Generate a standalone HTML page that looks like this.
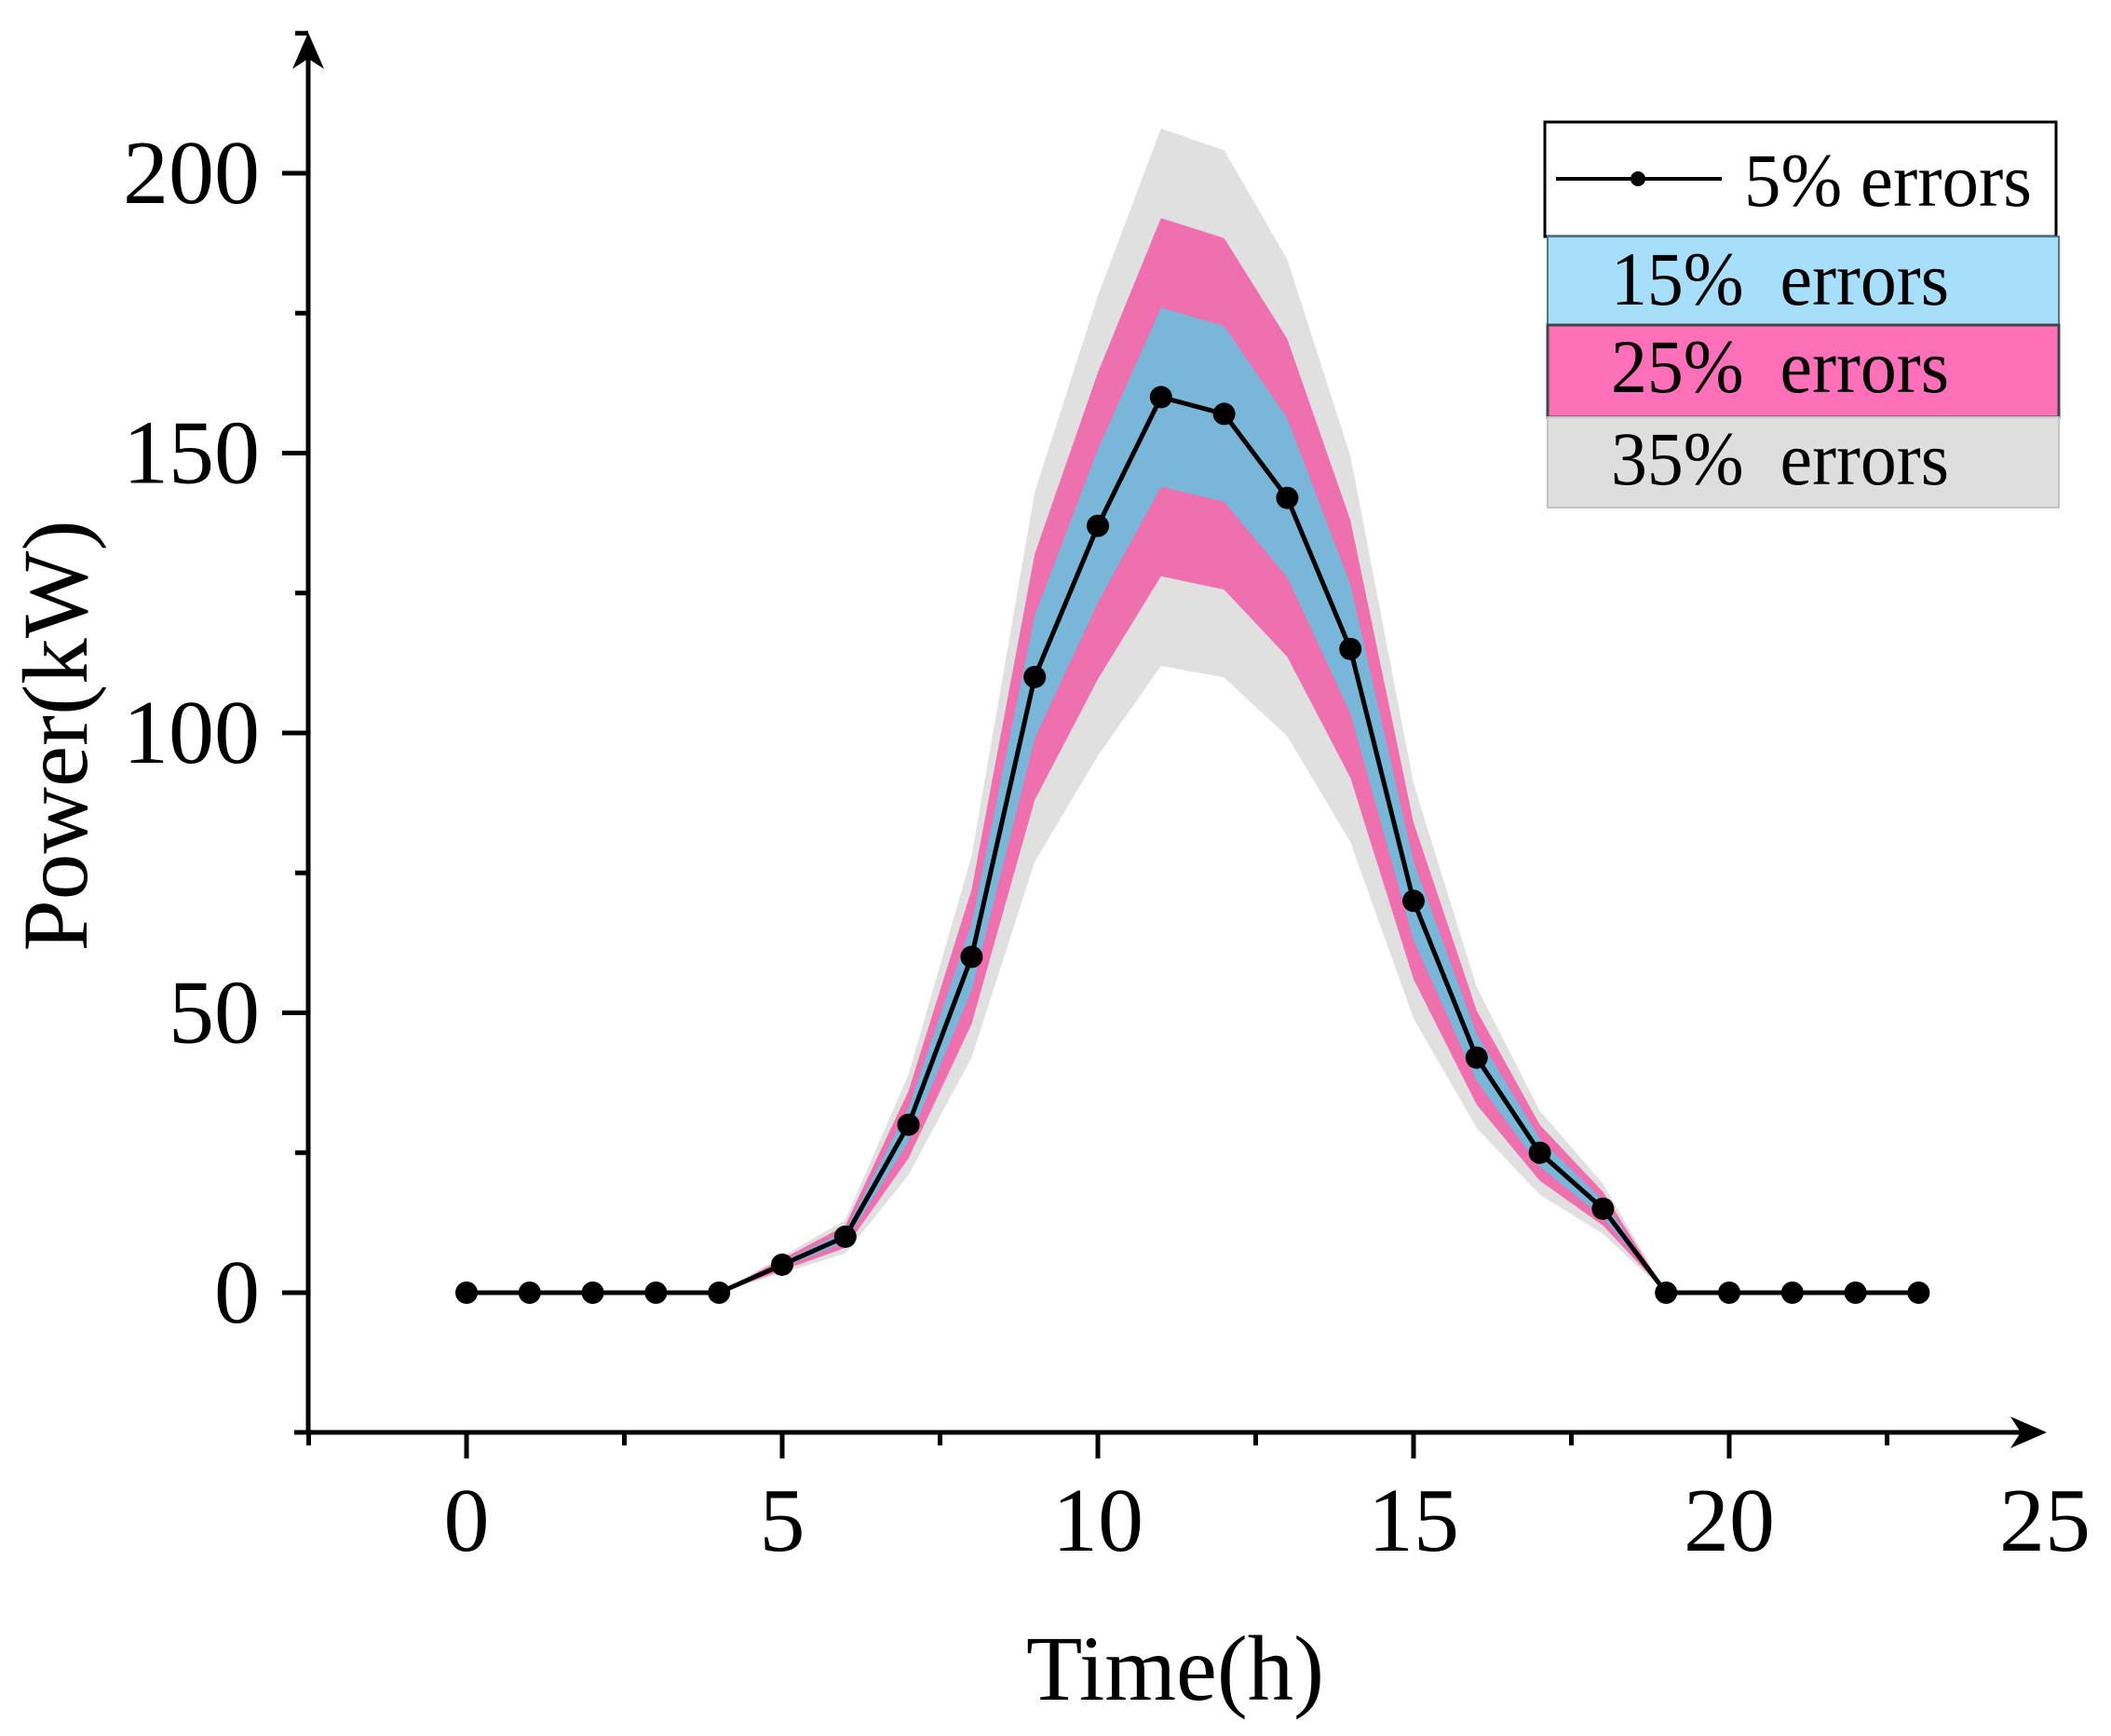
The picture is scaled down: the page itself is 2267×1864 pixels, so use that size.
<!DOCTYPE html>
<html><head><meta charset="utf-8"><style>
html,body{margin:0;padding:0;background:#fff;}
svg{display:block;}
text{font-family:"Liberation Serif",serif;fill:#000;}
</style></head><body>
<svg id="s" width="2267" height="1864" viewBox="0 0 2267 1864" xmlns="http://www.w3.org/2000/svg">
<g id="bands"></g>
<g id="series"></g>
<line x1="331" y1="1538" x2="331" y2="50" stroke="#000" stroke-width="5"/>
<polygon points="331,35 314,74 331,63 348,74" fill="#000"/>
<line x1="316" y1="1538" x2="2180" y2="1538" stroke="#000" stroke-width="5"/>
<polygon points="2198,1538 2159,1521 2170,1538 2159,1555" fill="#000"/>
<g id="ticks" stroke="#000" stroke-width="5"></g>
<g id="labels" font-size="98"></g>
<text x="1262" y="1825" font-size="100" text-anchor="middle" textLength="320" lengthAdjust="spacingAndGlyphs">Time(h)</text>
<text transform="translate(93,790) rotate(-90)" font-size="100" text-anchor="middle" textLength="463" lengthAdjust="spacingAndGlyphs">Power(kW)</text>
<g transform="translate(-9,0)">
<rect x="1668" y="131" width="549" height="123" fill="#fff" stroke="#000" stroke-width="3"/>
<line x1="1680" y1="192" x2="1858" y2="192" stroke="#000" stroke-width="4"/>
<circle cx="1768" cy="192" r="8" fill="#000"/>
<text x="1882" y="221" font-size="82" textLength="309" lengthAdjust="spacingAndGlyphs">5% errors</text>
<rect x="1671" y="254" width="549" height="95" fill="#a6defc" stroke="#4a7890" stroke-width="2"/>
<text x="1739" y="327" font-size="82" textLength="363" lengthAdjust="spacingAndGlyphs" xml:space="preserve">15%  errors</text>
<rect x="1671" y="349" width="549" height="99" fill="#ff70bb" stroke="#444" stroke-width="3"/>
<text x="1739" y="421" font-size="82" textLength="363" lengthAdjust="spacingAndGlyphs" xml:space="preserve">25%  errors</text>
<rect x="1671" y="448" width="549" height="97" fill="#dedede" stroke="#c4c4c4" stroke-width="2"/>
<text x="1739" y="520" font-size="82" textLength="363" lengthAdjust="spacingAndGlyphs" xml:space="preserve">35%  errors</text>
</g>
</svg>
<script>
(function(){
var NS="http://www.w3.org/2000/svg";
var X=function(h){return 501+67.8*h;}, Y=function(v){return 1388-6.01*v;};
var d=[0,0,0,0,0,5,10,30,60,110,137,160,157,142,115,70,42,25,15,0,0,0,0,0];
function band(f,col){
  var up=[],lo=[];
  for(var i=0;i<d.length;i++){up.push(X(i).toFixed(1)+","+Y(d[i]*(1+f)).toFixed(1));lo.unshift(X(i).toFixed(1)+","+Y(d[i]*(1-f)).toFixed(1));}
  var p=document.createElementNS(NS,"polygon");p.setAttribute("points",up.concat(lo).join(" "));p.setAttribute("fill",col);
  document.getElementById("bands").appendChild(p);
}
band(0.30,"#e0e0e0");band(0.20,"#ee70ae");band(0.10,"#79b6d8");
var pts=d.map(function(v,i){return X(i).toFixed(1)+","+Y(v).toFixed(1);}).join(" ");
var pl=document.createElementNS(NS,"polyline");pl.setAttribute("points",pts);pl.setAttribute("fill","none");pl.setAttribute("stroke","#000");pl.setAttribute("stroke-width","5");
var g=document.getElementById("series");g.appendChild(pl);
d.forEach(function(v,i){var c=document.createElementNS(NS,"circle");c.setAttribute("cx",X(i));c.setAttribute("cy",Y(v));c.setAttribute("r","12");c.setAttribute("fill","#000");g.appendChild(c);});
var t=document.getElementById("ticks");
function ln(a,b,c,e){var l=document.createElementNS(NS,"line");l.setAttribute("x1",a);l.setAttribute("y1",b);l.setAttribute("x2",c);l.setAttribute("y2",e);t.appendChild(l);}
for(var h=-2.5;h<=22.6;h+=2.5){var maj=Math.abs(h%5)<0.01;ln(X(h),1538,X(h),1538+(maj?28:14));}
for(var v=0;v<=225;v+=25){var maj=(v%50==0);ln(331,Y(v),331-(maj?28:14),Y(v));}
var L=document.getElementById("labels");
function tx(s,x,y,anc){var e=document.createElementNS(NS,"text");e.setAttribute("x",x);e.setAttribute("y",y);e.setAttribute("text-anchor",anc);e.textContent=s;L.appendChild(e);}
for(var h=0;h<=25;h+=5)tx(String(h),X(h),1665,"middle");
for(var v=0;v<=200;v+=50)tx(String(v),279,Y(v)+32,"end");
})();
</script>
</body></html>
